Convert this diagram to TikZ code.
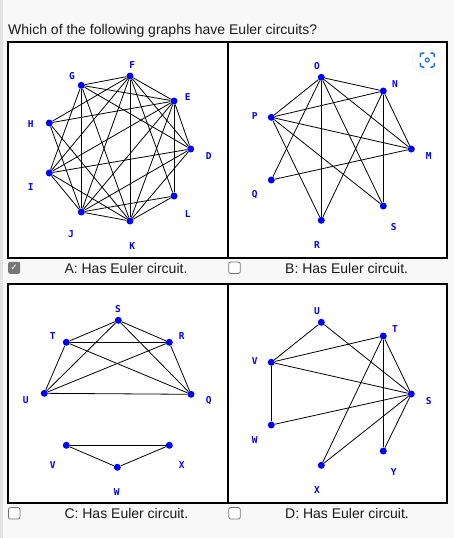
\documentclass[tikz,border=0pt]{standalone}
\usepackage{fontspec}
\setmainfont{Liberation Sans}
\newfontfamily\lblfont{DejaVu Sans Mono}
\newfontfamily\symfont{DejaVu Sans}
\usetikzlibrary{positioning}
\definecolor{vtxblue}{HTML}{0000FF}
\definecolor{pagegray}{HTML}{F8F8F8}
\definecolor{edgegray}{HTML}{E2E2E2}
\definecolor{boxgray}{HTML}{767676}
\definecolor{lensblue}{HTML}{1A73E8}
\definecolor{textblack}{HTML}{1A1A1A}

\tikzset{
  vtx/.style={circle,fill=vtxblue,inner sep=0pt,minimum size=7pt},
  lbl/.style={text=vtxblue,font=\lblfont\bfseries\fontsize{9.5}{10}\selectfont,inner sep=0pt},
  gedge/.style={line width=0.8pt},
  panel/.style={draw=black,line width=1.3pt,fill=white},
  answer/.style={font=\fontsize{14}{16}\selectfont,text=textblack,anchor=base west,inner sep=0pt},
  chkoff/.style={draw=boxgray,fill=white,rounded corners=2pt,line width=0.8pt,minimum size=11.5pt,inner sep=0pt},
  chkon/.style={fill=boxgray,rounded corners=2pt,minimum size=12pt,inner sep=0pt,text=white,font=\symfont\fontsize{9}{9}\selectfont}
}

\begin{document}
\begin{tikzpicture}[x=1pt,y=-1pt]
\useasboundingbox (0,0) rectangle (454,538);
\fill[pagegray] (0,0) rectangle (454,538);
\fill[edgegray] (0,0) rectangle (2.5,538);

\node[answer] (title) at (8,34.3) {Which of the following graphs have Euler circuits?};

\draw[panel] (8,42) rectangle (228,258);
\draw[panel] (228,42) rectangle (447,258);
\draw[panel] (8,284) rectangle (228,503);
\draw[panel] (228,284) rectangle (447,503);

% graph A
\node[vtx] (aF) at (130,76) {};
\node[vtx] (aG) at (81.3,85.3) {};
\node[vtx] (aE) at (174,101) {};
\node[vtx] (aH) at (49.3,123) {};
\node[vtx] (aD) at (190.7,149) {};
\node[vtx] (aI) at (49.3,173) {};
\node[vtx] (aL) at (174,196) {};
\node[vtx] (aJ) at (81.3,212) {};
\node[vtx] (aK) at (130,221) {};
\foreach \n/\x/\y in {F/132.3/65,G/72/75.7,E/187.7/97.3,H/30.7/124,D/208.7/156,
                      I/30.7/186.7,L/187.7/214.3,J/71/234,K/132.3/246}
  \node[lbl] (aL\n) at (\x,\y) {\n};
\foreach \a/\b in {F/G,F/E,F/D,F/L,F/K,F/J,F/I,F/H,
                   G/E,G/D,G/K,G/J,G/I,
                   E/H,E/I,E/J,E/K,E/L,E/D,
                   H/J,H/K,I/D,I/K,I/J,
                   J/D,J/L,J/K,K/L,K/D}
  \draw[gedge] (a\a) -- (a\b);

% graph B
\node[vtx] (bO) at (321.3,77.3) {};
\node[vtx] (bN) at (383.3,91) {};
\node[vtx] (bP) at (271.3,117.3) {};
\node[vtx] (bM) at (411.3,149) {};
\node[vtx] (bQ) at (271.3,180) {};
\node[vtx] (bS) at (383.3,206) {};
\node[vtx] (bR) at (321.3,220.3) {};
\foreach \n/\x/\y in {O/317/65.7,N/395/83.7,P/254.7/116.3,M/428.7/156.3,
                      Q/254.7/195,S/393.7/227,R/317/244.7}
  \node[lbl] (bL\n) at (\x,\y) {\n};
\foreach \a/\b in {O/N,O/P,O/Q,O/R,O/S,O/M,
                   N/P,N/M,N/S,N/R,
                   P/M,P/S,P/R,Q/M}
  \draw[gedge] (b\a) -- (b\b);

% graph C
\node[vtx] (cS) at (118.3,320.3) {};
\node[vtx] (cT) at (66.3,342.3) {};
\node[vtx] (cR) at (169.3,342.3) {};
\node[vtx] (cU) at (44.3,393.3) {};
\node[vtx] (cQ) at (191,394.3) {};
\node[vtx] (cV) at (66.3,445.3) {};
\node[vtx] (cX) at (169.3,445.3) {};
\node[vtx] (cW) at (117.3,467.3) {};
\foreach \n/\x/\y in {S/118/309,T/52.7/336,R/181.7/336,U/25.7/400.3,
                      Q/208.7/401,V/52.7/465,X/181.7/465,W/116.7/491.7}
  \node[lbl] (cL\n) at (\x,\y) {\n};
\foreach \a/\b in {S/T,S/R,S/U,S/Q,T/R,T/U,T/Q,R/U,R/Q,U/Q,
                   V/X,V/W,W/X}
  \draw[gedge] (c\a) -- (c\b);

% graph D
\node[vtx] (dU) at (321.3,322.3) {};
\node[vtx] (dT) at (383.3,336) {};
\node[vtx] (dV) at (271.3,362.3) {};
\node[vtx] (dS) at (411.3,394) {};
\node[vtx] (dW) at (271.3,425) {};
\node[vtx] (dY) at (383.3,451) {};
\node[vtx] (dX) at (321.3,465.3) {};
\foreach \n/\x/\y in {U/317/310.7,T/395/328.7,V/254.7/361.3,S/428.7/401.3,
                      W/254.7/440,Y/393.7/472,X/317/489.7}
  \node[lbl] (dL\n) at (\x,\y) {\n};
\foreach \a/\b in {U/V,U/S,T/V,T/S,T/Y,T/X,V/S,V/W,W/S,S/Y,S/X}
  \draw[gedge] (d\a) -- (d\b);

% answer row
\node[chkon] (boxA) at (14.2,267.8) {✓};
\node[answer] (ansA) at (64.3,273) {A: Has Euler circuit.};
\node[chkoff] (boxB) at (234.5,267.8) {};
\node[answer] (ansB) at (285,273) {B: Has Euler circuit.};
\node[chkoff] (boxC) at (14.2,513.3) {};
\node[answer] (ansC) at (64.3,518.5) {C: Has Euler circuit.};
\node[chkoff] (boxD) at (234.5,513.3) {};
\node[answer] (ansD) at (285,518.5) {D: Has Euler circuit.};

% lens button
\node[circle,fill=white,draw=black!8,minimum size=30pt,inner sep=0pt] (lens) at (427.3,60) {};
\draw[lensblue,line width=1.5pt,rounded corners=2pt]
  ([shift={(-7,-3)}]lens.center) -- ([shift={(-7,-7)}]lens.center) -- ([shift={(-3,-7)}]lens.center)
  ([shift={(3,-7)}]lens.center) -- ([shift={(7,-7)}]lens.center) -- ([shift={(7,-3)}]lens.center)
  ([shift={(7,3)}]lens.center) -- ([shift={(7,7)}]lens.center) -- ([shift={(3,7)}]lens.center)
  ([shift={(-3,7)}]lens.center) -- ([shift={(-7,7)}]lens.center) -- ([shift={(-7,3)}]lens.center);
\draw[lensblue,line width=1.2pt] (lens.center) circle[radius=2];
\end{tikzpicture}
\end{document}
